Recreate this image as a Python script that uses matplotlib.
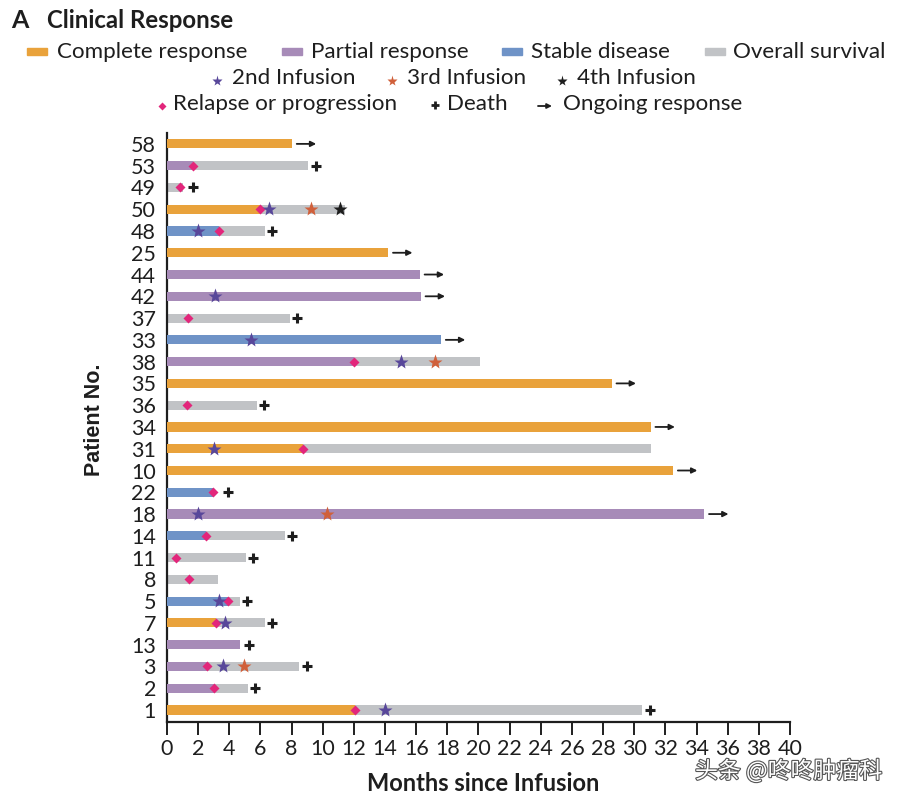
import numpy as np
import matplotlib
matplotlib.use("Agg")
import matplotlib.pyplot as plt
from matplotlib.patches import Rectangle
import matplotlib.patheffects as pe

# ---------------- data ----------------
patients = ["58", "53", "49", "50", "48", "25", "44", "42", "37", "33", "38", "35", "36",
            "34", "31", "10", "22", "18", "14", "11", "8", "5", "7", "13", "3", "2", "1"]
resp_type = ["CR", "PR", None, "CR", "SD", "CR", "PR", "PR", None, "SD", "PR", "CR", None,
             "CR", "CR", "CR", "SD", "PR", "SD", None, None, "SD", "CR", "PR", "PR", "PR", "CR"]
resp_end = [8.03, 1.65, 0, 5.97, 3.32, 14.21, 16.24, 16.3, 0, 17.6, 12.0, 28.56, 0,
            31.06, 8.73, 32.5, 2.95, 34.5, 2.48, 0, 0, 3.94, 3.17, 4.69, 2.59, 3.04, 12.1]
nan = np.nan
surv_end = [nan, 9.07, 1.05, 11.43, 6.29, nan, nan, nan, 7.9, nan, 20.1, nan, 5.75,
            nan, 31.06, nan, nan, nan, 7.58, 5.05, 3.25, 4.69, 6.29, nan, 8.5, 5.18, 30.5]
relapse = [nan, 1.65, 0.83, 5.97, 3.32, nan, nan, nan, 1.33, nan, 12.0, nan, 1.3,
           nan, 8.73, nan, 2.95, nan, 2.48, 0.58, 1.43, 3.94, 3.17, nan, 2.59, 3.04, 12.1]
inf2 = [nan, nan, nan, 6.57, 1.97, nan, nan, 3.1, nan, 5.4, 15.0, nan, nan,
        nan, 3.03, nan, nan, 1.97, nan, nan, nan, 3.34, 3.7, nan, 3.62, nan, 14.0]
inf3 = [nan, nan, nan, 9.25, nan, nan, nan, nan, nan, nan, 17.2, nan, nan,
        nan, nan, nan, nan, 10.3, nan, nan, nan, nan, nan, nan, 4.92, nan, nan]
inf4 = [nan, nan, nan, 11.1, nan, nan, nan, nan, nan, nan, nan, nan, nan,
        nan, nan, nan, nan, nan, nan, nan, nan, nan, nan, nan, nan, nan, nan]
death = [nan, 9.55, 1.69, nan, 6.72, nan, nan, nan, 8.37, nan, nan, nan, 6.25,
         nan, nan, nan, 3.9, nan, 8.05, 5.5, nan, 5.14, 6.76, 5.24, 8.97, 5.65, 31.0]
ongoing = [True, False, False, False, False, True, True, True, False, True, False, True, False,
           True, False, True, False, True, False, False, False, False, False, False, False, False, False]
xticks = list(range(0, 41, 2))

# ---------------- style ----------------
C_CR = "#E9A23B"
C_PR = "#A78BB8"
C_SD = "#6F93C7"
C_OS = "#C1C3C6"
C_REL = "#E2267B"
C_I2 = "#58479A"
C_I3 = "#D0603B"
C_I4 = "#1E1E1E"
C_TXT = "#1E1E1E"
type_color = {"CR": C_CR, "PR": C_PR, "SD": C_SD}

FONT = "Lato"
plt.rcParams["font.family"] = [FONT, "DejaVu Sans"]

W, H = 904, 805
fig = plt.figure(figsize=(W / 100, H / 100), dpi=100)

def fx(px):
    return px / W

def fy(py):
    return 1 - py / H

ax = fig.add_axes([fx(167), fy(722), fx(790) - fx(167), fy(133) - fy(722)])

n = len(patients)
ypos = np.arange(n)[::-1]
bh = 0.42

surv = np.array(surv_end, dtype=float)
rend = np.array(resp_end, dtype=float)
has_surv = ~np.isnan(surv)
ax.barh(ypos[has_surv], surv[has_surv] - rend[has_surv], left=rend[has_surv],
        height=bh, color=C_OS, zorder=2)
for t in ["CR", "PR", "SD"]:
    m = np.array([rt == t for rt in resp_type])
    ax.barh(ypos[m], rend[m], left=0, height=bh, color=type_color[t], zorder=3)

rel = np.array(relapse, dtype=float)
ax.plot(rel, ypos, ls="none", marker="D", ms=5.5, color=C_REL, mec="none", zorder=5)
ax.plot(np.array(inf2, float), ypos, ls="none", marker="*", ms=11, color=C_I2, mec="none", zorder=6)
ax.plot(np.array(inf3, float), ypos, ls="none", marker="*", ms=11, color=C_I3, mec="none", zorder=6)
ax.plot(np.array(inf4, float), ypos, ls="none", marker="*", ms=11, color=C_I4, mec="none", zorder=6)
ax.plot(np.array(death, float), ypos, ls="none", marker="+", ms=7.5, mew=2.2, color=C_TXT, zorder=6)

for y, e, og in zip(ypos, rend, ongoing):
    if og:
        ax.annotate("", xy=(e + 1.55, y), xytext=(e + 0.3, y),
                    arrowprops=dict(arrowstyle="-|>", lw=1.3, color=C_TXT,
                                    mutation_scale=8, shrinkA=0, shrinkB=0),
                    zorder=6)

ax.set_xlim(0, 40)
ax.set_ylim(-0.55, n - 0.5)
ax.set_xticks(xticks)
ax.set_xticklabels([str(v) for v in xticks])
ax.set_yticks(ypos)
ax.set_yticklabels(patients)
for s in ["top", "right"]:
    ax.spines[s].set_visible(False)
for s in ["left", "bottom"]:
    ax.spines[s].set_linewidth(1.6)
    ax.spines[s].set_color(C_TXT)
ax.tick_params(axis="x", direction="out", length=9, width=1.4, color=C_TXT,
               labelsize=15.5, labelcolor=C_TXT, pad=3)
ax.tick_params(axis="y", length=0, labelsize=15.5, labelcolor=C_TXT, pad=8)

# axis labels
fig.text(fx(483), fy(783), "Months since Infusion", ha="center", va="center",
         fontsize=17, fontweight="bold", color=C_TXT)
fig.text(fx(95), fy(420), "Patient No.", ha="center", va="center", rotation=90,
         fontsize=15.5, fontweight="bold", color=C_TXT,
         family=["Liberation Sans", "DejaVu Sans"])

# title
fig.text(fx(11), fy(20), "A", ha="left", va="center", fontsize=18, fontweight="bold", color=C_TXT)
fig.text(fx(47), fy(20), "Clinical Response", ha="left", va="center", fontsize=17.3,
         fontweight="bold", color=C_TXT)

# legend (manual, pixel overlay)
lax = fig.add_axes([0, 0, 1, 1], facecolor="none")
lax.set_xlim(0, W)
lax.set_ylim(H, 0)
lax.axis("off")
LFS = 16.1
row1 = [(C_CR, 27, 57, "Complete response"), (C_PR, 282, 311, "Partial response"),
        (C_SD, 502, 531, "Stable disease"), (C_OS, 705, 733, "Overall survival")]
for c, xs, xt, lab in row1:
    lax.add_patch(Rectangle((xs, 48), 20, 7, color=c))
    lax.text(xt, 52, lab, ha="left", va="center", fontsize=LFS, color=C_TXT)
row2 = [(C_I2, 217, 232, "2nd Infusion"), (C_I3, 392, 407, "3rd Infusion"),
        (C_I4, 562, 577, "4th Infusion")]
for c, xs, xt, lab in row2:
    lax.plot([xs], [81], marker="*", ms=8, color=c, mec="none")
    lax.text(xt, 78, lab, ha="left", va="center", fontsize=LFS, color=C_TXT)
lax.plot([162], [106], marker="D", ms=4, color=C_REL, mec="none")
lax.text(173, 104, "Relapse or progression", ha="left", va="center", fontsize=LFS, color=C_TXT)
lax.plot([435], [105], marker="+", ms=6, mew=2, color=C_TXT)
lax.text(447, 104, "Death", ha="left", va="center", fontsize=LFS, color=C_TXT)
lax.annotate("", xy=(552, 106), xytext=(538, 106),
             arrowprops=dict(arrowstyle="-|>", lw=1.3, color=C_TXT, mutation_scale=7,
                             shrinkA=0, shrinkB=0))
lax.text(563, 104, "Ongoing response", ha="left", va="center", fontsize=LFS, color=C_TXT)

# watermark
fig.text(fx(695), fy(771), "头条 @咚咚肿瘤科", ha="left", va="center", fontsize=16.5,
         color="white", family=["Noto Sans CJK SC", "DejaVu Sans"],
         path_effects=[pe.withStroke(linewidth=1.6, foreground="#555555")])

fig.savefig("out.png", dpi=100, facecolor="white")
